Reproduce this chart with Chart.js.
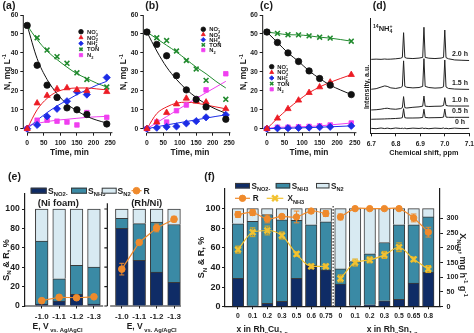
<!DOCTYPE html>
<html lang="en">
<head>
<meta charset="utf-8">
<title>Nitrate electroreduction: kinetics, NMR and selectivity</title>
<script src="https://cdn.jsdelivr.net/npm/chart.js@4.4.1/dist/chart.umd.min.js"></script>
<style>
  html, body { margin: 0; padding: 0; background: #fff; }
  #fig { position: relative; width: 474px; height: 333px; overflow: hidden; background: #fff; }
  #fig canvas { position: absolute; }
</style>
</head>
<body>
<div id="fig"></div>
<script>
// ---------------- time-course data, panels (a)-(c) ----------------
const timeMin = [0, 30, 60, 90, 120, 150, 180, 240];
const fitTime = [0, 30, 60, 90, 120, 150, 180, 210, 240];
const timeTicks = [0, 50, 100, 150, 200, 250];
const nTicks = [0, 10, 20, 30, 40, 50, 60];
const speciesNames = ['NO_{3}^{-}', 'NO_{2}^{-}', 'NH_{4}^{+}', 'TON', 'N_{2}'];

// (a)
const aNO3 = [54.5, 33.5, 23, 16.5, 11, 10, 7.5, 2.5];
const aNO2 = [0, 13.5, 17.5, 21, 21.5, 20.5, 20, 19.5];
const aNH4 = [0, 2, 6.5, 10.5, 14.5, 19.5, 18, 27];
const aTON = [54.5, 48, 41.5, 38, 34.5, 29.5, 26, 22];
const aN2  = [0, 4.5, 4.5, 4, 3.5, 2, 8.5, 6];
const aNO3Fit = [54.5, 37, 26, 18.5, 13, 9.5, 6.5, 4.5, 3];
const aNO2Fit = [0, 10, 16, 19.5, 21, 21.5, 21.5, 21, 20.5];
const aNH4Fit = [0, 4.5, 8.5, 12, 15, 18, 20.5, 23, 25];
const aTONFit = [54.5, 47, 41, 36.5, 32.5, 29, 26.5, 24, 22];
const aN2Fit  = [1.5, 2.8, 3.8, 4.5, 5, 5.5, 6, 6.3, 6.5];

// (b)
const bNO3 = [51, 44.5, 38.5, 28, 20.5, 15.5, 11.5, 5];
const bNO2 = [0, 3.5, 8.5, 13, 16, 14.5, 14, 10.5];
const bNH4 = [0, 0.5, 1, 1.2, 2.8, 4, 6, 7.3];
const bTON = [51, 48, 46.5, 41, 36, 31.5, 25.5, 15.5];
const bN2  = [0, 3.5, 3.5, 9.5, 12.5, 15.5, 20.5, 29];
const bNO3Fit = [51, 41, 32.5, 26, 20.7, 16.5, 13, 10.3, 8.2];
const bNO2Fit = [0, 8, 11.5, 13.5, 14, 13.5, 12.5, 11.5, 10.5];
const bNH4Fit = [0, 1, 2, 2.9, 3.8, 4.7, 5.6, 6.5, 7.3];
const bTONFit = [51, 47.5, 44, 40.5, 36.5, 32.5, 29, 25, 21.5];
const bN2Fit  = [0, 3.2, 6.4, 9.6, 12.8, 16, 19, 22, 25];

// (c)
const cNO3 = [51, 45.5, 40, 35.5, 30.5, 26.5, 23, 18];
const cNO2 = [0, 5.5, 10.5, 15, 19, 22, 24.5, 28.5];
const cNH4 = [0, 0.2, 0.3, 0.4, 0.6, 0.8, 1, 1.5];
const cTON = [51, 50.3, 49.6, 49.5, 49, 48.3, 47.8, 46.2];
const cN2  = [0, 0.8, 0.8, 1, 1.2, 1.5, 2, 3];

// ---------------- 1H NMR spectra, panel (d) ----------------
const dShift = [6.700, 6.720, 6.740, 6.755, 6.765, 6.780, 6.800, 6.820, 6.827, 6.832, 6.837, 6.845, 6.870,
                6.895, 6.910, 6.915, 6.920, 6.935, 6.960, 6.985, 6.995, 7.000, 7.005, 7.015, 7.040, 7.070, 7.100];
const d00 = [4.3, 4.0, 4.6, 4.1, 4.5, 4.0, 4.6, 4.2, 4.4, 4.1, 4.5, 4.0, 4.5, 4.2, 4.6, 4.1, 4.4, 4.0, 4.5, 4.2, 4.6, 4.1, 4.4, 4.0, 4.5, 4.1, 4.3];
const d05 = [12.2, 12.3, 12.4, 12.5, 12.6, 12.7, 12.9, 13.2, 13.6, 21.4, 13.6, 13.3, 13.3, 13.4, 13.8, 20.9, 13.8, 13.5, 13.6, 13.7, 14.1, 21.1, 14.1, 13.9, 13.9, 13.9, 13.9];
const d10 = [20.3, 20.5, 21, 21.6, 21.8, 21.2, 20.9, 21.5, 22.3, 31.9, 22.3, 22, 22.6, 23, 23.6, 32.4, 23.6, 23.3, 23.5, 23.6, 24.2, 31, 24.2, 23.8, 23.7, 23.7, 23.7];
const d15 = [38.3, 38.8, 40.2, 41.2, 40.8, 39.5, 39, 39.8, 40.8, 63, 40.8, 40, 39.5, 39.8, 40.8, 64.9, 40.8, 39.8, 39.3, 39.6, 40.5, 63.7, 40.3, 39, 38.5, 38.3, 38.2];
const d20 = [64.3, 64.5, 64.3, 64.6, 64.4, 64.5, 64.8, 65.3, 66, 87.5, 66, 65.3, 65, 65.4, 66, 92.2, 66, 65.3, 65, 65.4, 66, 89.8, 65.8, 64.8, 63.8, 63.5, 63.3];
const dTraceNames = ['0 h', '0.5 h', '1.0 h', '1.5 h', '2.0 h'];
const shiftTicks = [6.7, 6.8, 6.9, 7.0, 7.1];

// ---------------- selectivity and conversion, panel (e) ----------------
const eVoltages = ['-1.0', '-1.1', '-1.2', '-1.3'];
const eGroups = ['(Ni foam)', '(Rh/Ni)'];
const eNiNO2 = [2, 5, 12, 2];
const eNiNH3 = [65, 23, 30, 38];
const eNiN2  = [33, 72, 58, 60];
const eNiR   = [5.5, 9, 8.5, 9.5];
const eNiRErr = [1, 1, 1, 1];
const eRhNO2 = [80, 47, 35, 24.5];
const eRhNH3 = [10.5, 38, 51.5, 59.5];
const eRhN2  = [9.5, 15, 13.5, 16];
const eRhR   = [38, 65.5, 80.5, 89.5];
const eRhRErr = [6, 2, 4, 3];
const pctTicks = [0, 20, 40, 60, 80, 100];

// ---------------- alloy composition series, panel (f) ----------------
const fCuLabels = ['0', '0.1', '0.2', '0.3', '0.5', '0.6', '0.75'];
const fSnLabels = ['0', '0.1', '0.2', '0.3', '0.5', '0.65', '0.8'];
const fCuNO2 = [29, 1, 3.5, 5.5, 29, 42.5, 37.5];
const fCuNH3 = [55.5, 86, 90.5, 83, 59, 41, 49];
const fCuN2  = [15.5, 13, 6, 11.5, 12, 16.5, 13.5];
const fCuR   = [94, 96, 89.5, 92, 91.5, 97.5, 95];
const fCuRErr = [3, 3, 4, 2, 6, 2, 3];
const fCuX   = [194, 253, 259, 242, 179, 137, 137];
const fCuXErr = [12, 15, 15, 12, 8, 8, 8];
const fSnNO2 = [23, 1, 2, 6, 7.5, 24, 35];
const fSnNH3 = [15.5, 45, 52, 59.5, 76, 59.5, 56.5];
const fSnN2  = [61.5, 54, 46, 34.5, 16.5, 16.5, 8.5];
const fSnR   = [91.5, 100, 100, 100, 100, 90.5, 76];
const fSnRErr = [3, 1, 1, 1, 1, 4, 5];
const fSnX   = [96, 150, 159, 176, 202, 161, 128];
const fSnXErr = [12, 12, 10, 12, 15, 8, 12];
const rateTicks = [0, 50, 100, 150, 200, 250, 300];

// ---------------- drawing helpers ----------------
const FF = '"Liberation Sans", Arial, Helvetica, sans-serif';
const INK = '#1c1c1c';
const NAVY = '#0f2c66', TEAL = '#3a8aa5', ICE = '#d8eaf2', EDGE = '#3a3a3a';
const ORANGE = '#ef8a2c', YELLOW = '#f2c230';
const fig = document.getElementById('fig');
Chart.defaults.font.family = FF;

function addCanvas(left, top, w, h) {
  const c = document.createElement('canvas');
  c.width = w; c.height = h;
  c.style.left = left + 'px'; c.style.top = top + 'px';
  c.style.width = w + 'px'; c.style.height = h + 'px';
  fig.appendChild(c);
  return c;
}

// tiny markup: _{sub} and ^{sup}; a sub directly followed by a sup is stacked
function parseRich(s) {
  const out = []; let buf = ''; let i = 0;
  while (i < s.length) {
    const ch = s[i];
    if ((ch === '_' || ch === '^') && s[i + 1] === '{') {
      if (buf) { out.push({ t: buf }); buf = ''; }
      const end = s.indexOf('}', i);
      const txt = s.slice(i + 2, end);
      const last = out[out.length - 1];
      if (ch === '^' && last && last.sub !== undefined && last.sup === undefined) last.sup = txt;
      else if (ch === '_') out.push({ sub: txt });
      else out.push({ sup: txt });
      i = end + 1;
    } else { buf += ch; i++; }
  }
  if (buf) out.push({ t: buf });
  return out;
}

function drawRich(ctx, str, x, y, o) {
  const size = o.size || 8;
  const small = size * 0.68;
  const fN = `bold ${size}px ${FF}`, fS = `bold ${small}px ${FF}`;
  const parts = parseRich(str);
  let w = 0;
  parts.forEach(p => {
    if (p.t !== undefined) { ctx.font = fN; p.w = ctx.measureText(p.t).width; }
    else {
      ctx.font = fS;
      p.w = Math.max(p.sub ? ctx.measureText(p.sub).width : 0, p.sup ? ctx.measureText(p.sup).width : 0);
    }
    w += p.w;
  });
  ctx.save();
  ctx.translate(x, y);
  if (o.rot) ctx.rotate(o.rot);
  let cx = o.align === 'left' ? 0 : o.align === 'right' ? -w : -w / 2;
  ctx.fillStyle = o.color || INK;
  ctx.textAlign = 'left';
  ctx.textBaseline = 'alphabetic';
  const base = size * 0.36;
  parts.forEach(p => {
    if (p.t !== undefined) { ctx.font = fN; ctx.fillText(p.t, cx, base); }
    else {
      ctx.font = fS;
      if (p.sub) ctx.fillText(p.sub, cx, base + size * 0.3);
      if (p.sup) ctx.fillText(p.sup, cx, base - size * 0.42);
    }
    cx += p.w;
  });
  ctx.restore();
}

function pts(xs, ys) { return ys.map((v, i) => ({ x: xs[i], y: v })); }
function zeroPad(s) { s.paddingLeft = s.paddingRight = s.paddingTop = s.paddingBottom = 0; }
function fixW(w) { return s => { s.width = w; zeroPad(s); }; }
function fixH(h) { return s => { s.height = h; zeroPad(s); }; }
function setTicks(vals) { return s => { s.ticks = vals.map(v => ({ value: v })); }; }
function font(size) { return { family: FF, size: size, weight: 'bold' }; }
function tickMarks(len) {
  return { drawOnChartArea: false, drawTicks: true, tickLength: len, color: INK, tickColor: INK,
           tickWidth: 1, lineWidth: 1, offset: false };
}
function baseOptions(pad) {
  return {
    responsive: false, animation: false, devicePixelRatio: 1, events: [],
    layout: { padding: pad },
    plugins: { legend: { display: false }, tooltip: { enabled: false } }
  };
}

function textLayer(items) {
  return { id: 'textLayer', afterDraw(chart) { items.forEach(it => drawRich(chart.ctx, it.t, it.x, it.y, it)); } };
}

// axis lines that stop at zero, leaving an open corner
const offsetAxes = {
  id: 'offsetAxes',
  beforeDatasetsDraw(chart) {
    const { ctx, chartArea: a, scales: { x, y } } = chart;
    ctx.save();
    ctx.strokeStyle = INK; ctx.lineWidth = 1;
    ctx.beginPath();
    ctx.moveTo(a.left, y.getPixelForValue(y.max)); ctx.lineTo(a.left, y.getPixelForValue(0));
    ctx.moveTo(x.getPixelForValue(0), a.bottom); ctx.lineTo(x.getPixelForValue(x.max), a.bottom);
    ctx.stroke();
    ctx.restore();
  }
};

function pointLegend(L) {
  return {
    id: 'pointLegend',
    afterDraw(chart) {
      const ctx = chart.ctx;
      chart.data.datasets.filter(d => d.inLegend).forEach((d, i) => {
        const y = L.y + i * L.dy;
        ctx.save();
        ctx.fillStyle = d.pointBackgroundColor; ctx.strokeStyle = d.pointBorderColor;
        ctx.lineWidth = d.pointBorderWidth;
        Chart.helpers.drawPoint(ctx, { pointStyle: d.pointStyle, radius: L.r, rotation: 0,
                                       borderWidth: d.pointBorderWidth }, L.x, y);
        ctx.restore();
        drawRich(ctx, d.label, L.x + L.gap, y, { size: L.size, align: 'left' });
      });
    }
  };
}

const errorBars = {
  id: 'errorBars',
  beforeDatasetDraw(chart, args) {
    const ds = chart.data.datasets[args.index];
    if (!ds.errors) return;
    const meta = args.meta, ys = chart.scales[meta.yAxisID], ctx = chart.ctx;
    const c = ds.capHalf || 2.5;
    ctx.save();
    ctx.strokeStyle = ds.errorColor || ds.borderColor; ctx.lineWidth = 1;
    ctx.beginPath();
    meta.data.forEach((el, i) => {
      const v = ds.data[i].y, e = ds.errors[i];
      const y1 = ys.getPixelForValue(v - e), y2 = ys.getPixelForValue(v + e);
      ctx.moveTo(el.x, y1); ctx.lineTo(el.x, y2);
      ctx.moveTo(el.x - c, y1); ctx.lineTo(el.x + c, y1);
      ctx.moveTo(el.x - c, y2); ctx.lineTo(el.x + c, y2);
    });
    ctx.stroke();
    ctx.restore();
  }
};

function barLegend(items) {
  return {
    id: 'barLegend',
    afterDraw(chart) {
      const ctx = chart.ctx;
      items.forEach(it => {
        const d = chart.data.datasets[it.ds];
        ctx.save();
        if (it.kind === 'box') {
          ctx.fillStyle = d.backgroundColor;
          ctx.fillRect(it.x, it.y - it.h / 2, it.w, it.h);
          ctx.strokeStyle = d.borderColor; ctx.lineWidth = 1;
          ctx.strokeRect(it.x + 0.5, it.y - it.h / 2 + 0.5, it.w - 1, it.h - 1);
        } else {
          ctx.strokeStyle = d.borderColor; ctx.lineWidth = d.borderWidth;
          ctx.beginPath(); ctx.moveTo(it.x, it.y); ctx.lineTo(it.x + it.w, it.y); ctx.stroke();
          ctx.fillStyle = d.pointBackgroundColor; ctx.strokeStyle = d.pointBorderColor;
          ctx.lineWidth = d.pointBorderWidth;
          Chart.helpers.drawPoint(ctx, { pointStyle: d.pointStyle, radius: d.pointRadius, rotation: 0,
                                         borderWidth: d.pointBorderWidth }, it.x + it.w / 2, it.y);
        }
        ctx.restore();
        drawRich(ctx, d.label, it.tx, it.y, { size: it.size, align: 'left' });
      });
    }
  };
}

// ---------------- panels (a)-(c) ----------------
const SPECIES = [
  { color: '#111111', style: 'circle',   r: 3.2, bw: 0.8 },
  { color: '#ec1c24', style: 'triangle', r: 3.6, bw: 0.8 },
  { color: '#1c2ce6', style: 'rectRot',  r: 3.6, bw: 0.8 },
  { color: '#218a2e', style: 'crossRot', r: 3.4, bw: 1.6 },
  { color: '#f03ff0', style: 'rect',     r: 3.2, bw: 0.8 }
];

function timePanel(cfg) {
  const canvas = addCanvas(cfg.left, cfg.top, cfg.w, cfg.h);
  const datasets = [];
  cfg.series.forEach((vals, k) => {
    const s = SPECIES[k];
    datasets.push({
      label: speciesNames[k], inLegend: true, data: pts(timeMin, vals),
      showLine: !!cfg.joined, cubicInterpolationMode: 'monotone',
      borderColor: s.color, borderWidth: 1,
      pointStyle: s.style, pointRadius: s.r, pointBackgroundColor: s.color,
      pointBorderColor: s.color, pointBorderWidth: s.bw, order: 0
    });
  });
  (cfg.fits || []).forEach((vals, k) => {
    datasets.push({
      data: pts(fitTime, vals), showLine: true, pointRadius: 0,
      borderColor: SPECIES[k].color, borderWidth: 1, cubicInterpolationMode: 'monotone', order: 1
    });
  });
  const opts = baseOptions({ left: 0, top: cfg.aT, right: cfg.w - cfg.aR, bottom: 0 });
  opts.scales = {
    x: {
      type: 'linear', min: cfg.xMin, max: cfg.xMax,
      afterBuildTicks: setTicks(timeTicks), afterFit: fixH(cfg.h - cfg.aB),
      ticks: { font: font(6.8), color: INK, padding: 3.5, maxRotation: 0, autoSkip: false, callback: v => String(v) },
      grid: tickMarks(3), border: { display: false }
    },
    y: {
      type: 'linear', min: -2.1, max: 60,
      afterBuildTicks: setTicks(nTicks), afterFit: fixW(cfg.aL),
      ticks: { font: font(6.8), color: INK, padding: 2, autoSkip: false, callback: v => String(v) },
      grid: tickMarks(3), border: { display: false }
    }
  };
  new Chart(canvas, {
    type: 'scatter', data: { datasets }, options: opts,
    plugins: [offsetAxes, pointLegend(cfg.legend), textLayer(cfg.texts)]
  });
}

const ROT_UP = -Math.PI / 2;

timePanel({
  left: 0, top: 0, w: 118, h: 165, aL: 23.3, aR: 115, aT: 15, aB: 132.7, xMin: -11.7, xMax: 257,
  series: [aNO3, aNO2, aNH4, aTON, aN2], fits: [aNO3Fit, aNO2Fit, aNH4Fit, aTONFit, aN2Fit],
  legend: { x: 81, y: 31.7, dy: 5.85, gap: 6, size: 5.8, r: 2.3 },
  texts: [
    { t: '(a)', x: 9, y: 5.5, size: 10.5 },
    { t: 'Time, min', x: 69.5, y: 152, size: 8.4 },
    { t: 'N, mg L^{-1}', x: 6.5, y: 72, size: 8.4, rot: ROT_UP }
  ]
});

timePanel({
  left: 118, top: 0, w: 118, h: 165, aL: 25.3, aR: 114, aT: 15, aB: 132.7, xMin: -11, xMax: 254,
  series: [bNO3, bNO2, bNH4, bTON, bN2], fits: [bNO3Fit, bNO2Fit, bNH4Fit, bTONFit, bN2Fit],
  legend: { x: 85.3, y: 29.3, dy: 5.2, gap: 6, size: 5.8, r: 2.3 },
  texts: [
    { t: '(b)', x: 34, y: 5.5, size: 10.5 },
    { t: 'Time, min', x: 72, y: 152, size: 8.4 },
    { t: 'N, mg L^{-1}', x: 5.3, y: 72, size: 8.4, rot: ROT_UP }
  ]
});

timePanel({
  left: 236, top: 0, w: 126, h: 165, aL: 26.7, aR: 121, aT: 15, aB: 132.7, xMin: -12, xMax: 254.6,
  series: [cNO3, cNO2, cNH4, cTON, cN2], joined: true,
  legend: { x: 35.7, y: 66.7, dy: 5.65, gap: 5.5, size: 5.8, r: 2.3 },
  texts: [
    { t: '(c)', x: 30.5, y: 5.5, size: 10.5 },
    { t: 'Time, min', x: 73, y: 152, size: 8.4 },
    { t: 'N, mg L^{-1}', x: 7.3, y: 72, size: 8.4, rot: ROT_UP }
  ]
});

// ---------------- panel (d) ----------------
(function () {
  const canvas = addCanvas(360, 0, 114, 165);
  const traces = [d00, d05, d10, d15, d20];
  const datasets = traces.map((vals, i) => ({
    label: dTraceNames[i], data: pts(dShift, vals), showLine: true, pointRadius: 0,
    borderColor: '#222222', borderWidth: 1, tension: 0
  }));
  const opts = baseOptions({ left: 0, top: 18.3, right: 114 - 109.3, bottom: 0 });
  opts.scales = {
    x: {
      type: 'linear', min: 6.695, max: 7.1,
      afterBuildTicks: setTicks(shiftTicks), afterFit: fixH(165 - 133.3),
      ticks: { font: font(6.6), color: INK, padding: 3.5, maxRotation: 0, autoSkip: false, callback: v => v.toFixed(1) },
      grid: tickMarks(3), border: { display: true, color: INK, width: 1 }
    },
    y: {
      type: 'linear', min: 0, max: 100, afterFit: fixW(10),
      ticks: { display: false }, grid: { display: false },
      border: { display: true, color: INK, width: 1 }
    }
  };
  const traceNames = {
    id: 'traceNames',
    afterDraw(chart) {
      const { ctx, scales: { x, y } } = chart;
      chart.data.datasets.forEach(d => {
        const last = d.data[d.data.length - 1].y;
        drawRich(ctx, d.label, x.getPixelForValue(7.062), y.getPixelForValue(last + 6), { size: 7 });
      });
    }
  };
  new Chart(canvas, {
    type: 'scatter', data: { datasets }, options: opts,
    plugins: [traceNames, textLayer([
      { t: '(d)', x: 19.5, y: 5.5, size: 10.5 },
      { t: '^{14}NH_{4}^{+}', x: 13, y: 28, size: 7.5, align: 'left' },
      { t: 'Chemical shift, ppm', x: 63.8, y: 152.3, size: 7.3 },
      { t: 'Intensity, a.u.', x: 6.7, y: 87, size: 7, rot: ROT_UP }
    ])]
  });
})();

// ---------------- panel (e) ----------------
(function () {
  const GROUP_SHIFT = 4.6;
  const niPos = eVoltages.map((_, i) => i);
  const rhPos = eVoltages.map((_, i) => i + GROUP_SHIFT);
  const ePos = niPos.concat(rhPos);
  const eTickText = eVoltages.concat(eVoltages);
  const Y_MAX = 116.2;
  const canvas = addCanvas(0, 170, 190, 163);

  const rLine = (pos, vals, errs, lab) => ({
    type: 'line', label: lab, data: pts(pos, vals), yAxisID: 'yL', order: 0,
    borderColor: ORANGE, borderWidth: 1.2, tension: 0,
    pointStyle: 'circle', pointRadius: 3.3, pointBackgroundColor: ORANGE, pointBorderColor: ORANGE,
    pointBorderWidth: 1, errors: errs, capHalf: 2.5
  });
  const bar = (lab, vals, color) => ({
    type: 'bar', label: lab, data: pts(ePos, vals), yAxisID: 'y', order: 1,
    backgroundColor: color, borderColor: EDGE, borderWidth: 1, barThickness: 12.7
  });
  const datasets = [
    rLine(niPos, eNiR, eNiRErr, 'R'),
    rLine(rhPos, eRhR, eRhRErr, 'R'),
    bar('S_{NO2-}', eNiNO2.concat(eRhNO2), NAVY),
    bar('S_{NH3}', eNiNH3.concat(eRhNH3), TEAL),
    bar('S_{N2}', eNiN2.concat(eRhN2), ICE)
  ];
  const opts = baseOptions({ left: 0, top: 23.3, right: 9, bottom: 0 });
  opts.scales = {
    x: {
      type: 'linear', stacked: true, offset: false, min: -0.96, max: 8.0,
      afterBuildTicks: setTicks(ePos), afterFit: fixH(27),
      ticks: { font: font(8), color: INK, padding: 3.4, maxRotation: 0, autoSkip: false, callback: (v, i) => eTickText[i] },
      grid: tickMarks(2.5), border: { display: false }
    },
    y: {
      type: 'linear', stacked: true, min: 0, max: Y_MAX,
      afterBuildTicks: setTicks(pctTicks), afterFit: fixW(25),
      ticks: { font: font(8.6), color: INK, padding: 2.3, autoSkip: false, callback: v => String(v) },
      grid: tickMarks(3), border: { display: true, color: INK, width: 1.2 }
    },
    yL: { type: 'linear', display: false, min: 0, max: Y_MAX }
  };
  // broken baseline and the second value axis in front of the Rh/Ni group
  const splitAxes = {
    id: 'splitAxes',
    beforeDatasetsDraw(chart) {
      const { ctx, chartArea: a, scales: { x, y } } = chart;
      const xb = x.getPixelForValue(3.77);
      ctx.save();
      ctx.strokeStyle = INK; ctx.lineWidth = 1.2;
      ctx.beginPath();
      ctx.moveTo(a.left, a.bottom); ctx.lineTo(x.getPixelForValue(3.53), a.bottom);
      ctx.moveTo(x.getPixelForValue(3.93), a.bottom); ctx.lineTo(a.right, a.bottom);
      ctx.moveTo(xb, a.bottom); ctx.lineTo(xb, y.getPixelForValue(106));
      pctTicks.forEach(v => { const py = y.getPixelForValue(v); ctx.moveTo(xb, py); ctx.lineTo(xb - 3, py); });
      ctx.stroke();
      ctx.restore();
    }
  };
  new Chart(canvas, {
    type: 'bar', data: { datasets }, options: opts,
    plugins: [splitAxes, errorBars,
      barLegend([
        { ds: 2, kind: 'box', x: 30.7, y: 20.7, w: 16, h: 6, tx: 48, size: 8.6 },
        { ds: 3, kind: 'box', x: 71, y: 20.7, w: 16, h: 6, tx: 88, size: 8.6 },
        { ds: 4, kind: 'box', x: 101.7, y: 20.7, w: 15, h: 6, tx: 117.5, size: 8.6 },
        { ds: 0, kind: 'line', x: 131.5, y: 20.7, w: 10, tx: 143.5, size: 8.6 }
      ]),
      textLayer([
        { t: '(e)', x: 14.5, y: 6, size: 10.5 },
        { t: eGroups[0], x: 58.3, y: 32.3, size: 9.5 },
        { t: eGroups[1], x: 146.7, y: 32.3, size: 9.5 },
        { t: 'S_{N} & R, %', x: 5.5, y: 90, size: 9, rot: ROT_UP },
        { t: 'E, V_{ vs. Ag/AgCl}', x: 57.5, y: 156, size: 8.5 },
        { t: 'E, V_{ vs. Ag/AgCl}', x: 151.7, y: 156, size: 8.5 }
      ])]
  });
})();

// ---------------- panel (f) ----------------
(function () {
  const cuPos = fCuLabels.map((_, i) => i);
  const snPos = fSnLabels.map((_, i) => i + fCuLabels.length);
  const fPos = cuPos.concat(snPos);
  const fTickText = fCuLabels.concat(fSnLabels);
  const Y_MAX = 120, YR_MAX = 400;
  const canvas = addCanvas(190, 170, 284, 163);

  const rLine = (pos, vals, errs) => ({
    type: 'line', label: 'R', data: pts(pos, vals), yAxisID: 'yL', order: 0,
    borderColor: ORANGE, borderWidth: 1.2, tension: 0.3,
    pointStyle: 'circle', pointRadius: 3.2, pointBackgroundColor: ORANGE, pointBorderColor: ORANGE,
    pointBorderWidth: 1, errors: errs, capHalf: 2.8
  });
  const xLine = (pos, vals, errs) => ({
    type: 'line', label: 'X_{NH3}', data: pts(pos, vals), yAxisID: 'yR', order: 0,
    borderColor: YELLOW, borderWidth: 1.2, cubicInterpolationMode: 'monotone',
    pointStyle: 'crossRot', pointRadius: 4, pointBackgroundColor: YELLOW, pointBorderColor: YELLOW,
    pointBorderWidth: 2.4, errors: errs, errorColor: '#e0a91c', capHalf: 2.8
  });
  const bar = (lab, vals, color) => ({
    type: 'bar', label: lab, data: pts(fPos, vals), yAxisID: 'y', order: 1,
    backgroundColor: color, borderColor: EDGE, borderWidth: 1, barThickness: 11.5
  });
  const datasets = [
    rLine(cuPos, fCuR, fCuRErr),
    rLine(snPos, fSnR, fSnRErr),
    xLine(cuPos, fCuX, fCuXErr),
    xLine(snPos, fSnX, fSnXErr),
    bar('S_{NO2-}', fCuNO2.concat(fSnNO2), NAVY),
    bar('S_{NH3}', fCuNH3.concat(fSnNH3), TEAL),
    bar('S_{N2}', fCuN2.concat(fSnN2), ICE)
  ];
  const opts = baseOptions({ left: 0, top: 19, right: 0, bottom: 0 });
  opts.scales = {
    x: {
      type: 'linear', stacked: true, offset: false, min: -0.888, max: 13.8,
      afterBuildTicks: setTicks(fPos), afterFit: fixH(163 - 136.7),
      ticks: { font: font(6.8), color: INK, padding: 3, maxRotation: 0, autoSkip: false, callback: (v, i) => fTickText[i] },
      grid: tickMarks(2.5), border: { display: true, color: INK, width: 1.2 }
    },
    y: {
      type: 'linear', stacked: true, min: 0, max: Y_MAX,
      afterBuildTicks: setTicks(pctTicks), afterFit: fixW(35),
      ticks: { font: font(9), color: INK, padding: 1.5, autoSkip: false, callback: v => String(v) },
      grid: tickMarks(3), border: { display: true, color: INK, width: 1.2 }
    },
    yR: {
      type: 'linear', position: 'right', min: 0, max: YR_MAX,
      afterBuildTicks: setTicks(rateTicks), afterFit: fixW(34),
      ticks: { font: font(7.2), color: INK, padding: 3.5, autoSkip: false, callback: v => String(v) },
      grid: tickMarks(3), border: { display: true, color: INK, width: 1.2 }
    },
    yL: { type: 'linear', display: false, min: 0, max: Y_MAX }
  };
  const divider = {
    id: 'divider',
    beforeDatasetsDraw(chart) {
      const { ctx, scales: { x, y } } = chart;
      const px = x.getPixelForValue(fCuLabels.length - 0.5);
      ctx.save();
      ctx.strokeStyle = '#333'; ctx.lineWidth = 1.2; ctx.setLineDash([1.6, 1.6]);
      ctx.beginPath(); ctx.moveTo(px, y.getPixelForValue(0)); ctx.lineTo(px, y.getPixelForValue(104)); ctx.stroke();
      ctx.restore();
    }
  };
  new Chart(canvas, {
    type: 'bar', data: { datasets }, options: opts,
    plugins: [divider, errorBars,
      barLegend([
        { ds: 4, kind: 'box', x: 45, y: 15.7, w: 15, h: 5.5, tx: 61.5, size: 8.2 },
        { ds: 5, kind: 'box', x: 85.7, y: 15.7, w: 14.5, h: 5.5, tx: 101.7, size: 8.2 },
        { ds: 6, kind: 'box', x: 126, y: 15.7, w: 13.5, h: 5.5, tx: 141, size: 8.2 },
        { ds: 0, kind: 'line', x: 45, y: 28.3, w: 15, tx: 62.7, size: 8.2 },
        { ds: 2, kind: 'line', x: 76.7, y: 28.3, w: 16.6, tx: 97.5, size: 8.2 }
      ]),
      textLayer([
        { t: '(f)', x: 19.5, y: 6, size: 10.5 },
        { t: 'S_{N} & R, %', x: 11, y: 87.5, size: 9, rot: ROT_UP },
        { t: 'X_{NH3}, mg h^{-1} g^{-1}', x: 273.3, y: 95, size: 9, rot: Math.PI / 2 },
        { t: 'x in Rh_{x}Cu_{1-x}', x: 72, y: 159, size: 8.5 },
        { t: 'x in Rh_{x}Sn_{1-x}', x: 202, y: 159, size: 8.5 }
      ])]
  });
})();
</script>
</body>
</html>
